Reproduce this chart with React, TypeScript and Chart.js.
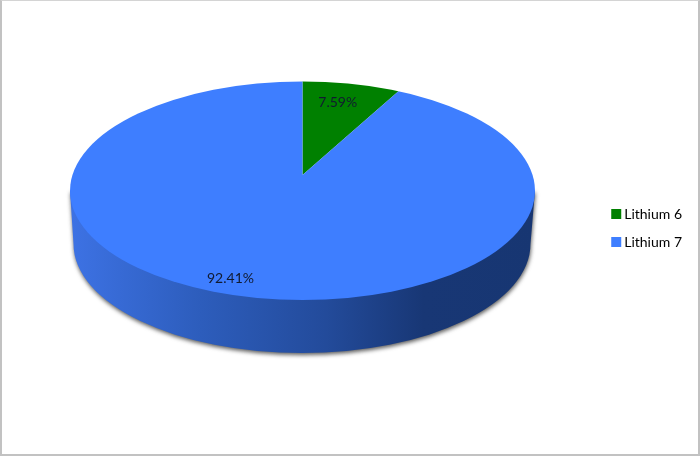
import React, { useEffect, useRef } from "react";
import { Chart, registerables } from "chart.js";

Chart.register(...registerables);

const categories = ["Lithium 6", "Lithium 7"];
const shares = [7.59, 92.41];
const sliceColors = ["#008000", "#3e7eff"];

// the disc is drawn in perspective, so the slices meet above the middle of its outline
const APEX = { x: 302.5, y: 175 };
const TILT = 0.451;
const TOP = { x: 302.5, y: 190.75, rx: 232.5, ry: 109.25 };
const BASE = { x: 302, y: 244, rx: 228.5, ry: 109 };

// where each percentage sits in the untilted pie
const LABEL_SPOTS = [
  { radius: 164, turn: -0.022 },
  { radius: 241, turn: 0.065 },
];

const piePerspective = {
  id: "piePerspective",
  beforeDatasetsDraw(chart: Chart) {
    const { ctx } = chart;
    const arc: any = chart.getDatasetMeta(0).data[0];

    ctx.save();
    const side = ctx.createLinearGradient(70, 0, 535, 0);
    side.addColorStop(0, "#3d72e4");
    side.addColorStop(0.28, "#2d5dbc");
    side.addColorStop(0.55, "#234b9b");
    side.addColorStop(0.76, "#183775");
    side.addColorStop(1, "#173672");
    ctx.fillStyle = side;
    ctx.shadowColor = "rgba(60,60,60,0.85)";
    ctx.shadowBlur = 4;
    ctx.shadowOffsetX = 0.5;
    ctx.shadowOffsetY = 2;
    ctx.beginPath();
    ctx.ellipse(BASE.x, BASE.y, BASE.rx, BASE.ry, 0, 0, Math.PI);
    ctx.lineTo(TOP.x - TOP.rx, TOP.y);
    ctx.lineTo(TOP.x + TOP.rx, TOP.y);
    ctx.closePath();
    ctx.fill();
    ctx.restore();

    ctx.save();
    ctx.beginPath();
    ctx.ellipse(TOP.x, TOP.y, TOP.rx, TOP.ry, 0, 0, Math.PI * 2);
    ctx.clip();
    ctx.translate(APEX.x, APEX.y);
    ctx.scale(1, TILT);
    ctx.translate(-arc.x, -arc.y);
  },
  afterDatasetsDraw(chart: Chart) {
    const { ctx } = chart;
    ctx.restore();

    ctx.save();
    ctx.font = "14px Lato";
    ctx.fillStyle = "#111a30";
    ctx.textAlign = "center";
    ctx.textBaseline = "middle";
    chart.getDatasetMeta(0).data.forEach((el: any, i: number) => {
      const spot = LABEL_SPOTS[i];
      const angle = (el.startAngle + el.endAngle) / 2 + spot.turn;
      const x = APEX.x + Math.cos(angle) * spot.radius;
      const y = APEX.y + Math.sin(angle) * spot.radius * TILT;
      ctx.fillText(shares[i].toFixed(2) + "%", x, y);
    });
    ctx.restore();
  },
};

const App: React.FC = () => {
  const canvasRef = useRef<HTMLCanvasElement>(null);

  useEffect(() => {
    if (!canvasRef.current) return;

    const chart = new Chart(canvasRef.current, {
      type: "pie",
      data: {
        labels: categories,
        datasets: [{
          data: shares,
          backgroundColor: sliceColors,
          borderWidth: 0,
          radius: 280,
          clip: false,
        } as any],
      },
      options: {
        responsive: false,
        animation: false,
        layout: { padding: { right: 8 } },
        plugins: {
          tooltip: { enabled: false },
          legend: {
            position: "right",
            labels: {
              color: "#1a1a1a",
              font: { family: "Lato", size: 14 },
              // thin box with a thick outline: keeps the swatch 10px but closer to its text
              boxWidth: 2,
              boxHeight: 2,
              padding: 14,
              generateLabels: (chart: Chart) =>
                categories.map((text, i) => ({
                  text,
                  index: i,
                  fillStyle: sliceColors[i],
                  strokeStyle: sliceColors[i],
                  lineWidth: 8,
                  hidden: !chart.getDataVisibility(i),
                })),
            },
          },
        },
      },
      plugins: [piePerspective],
    });

    return () => chart.destroy();
  }, []);

  return (
    <div style={{ position: "fixed", left: 0, top: 0, width: 700, height: 456, background: "#fff" }}>
      <canvas ref={canvasRef} width={700} height={456} style={{ display: "block" }} />
      <div
        style={{
          position: "absolute",
          inset: 0,
          boxSizing: "border-box",
          borderStyle: "solid",
          borderColor: "#d4d4d4 #c2c2c2 #c2c2c2 #c2c2c2",
          borderWidth: "1px 2px 2px 2px",
          pointerEvents: "none",
        }}
      />
    </div>
  );
};

export default App;
